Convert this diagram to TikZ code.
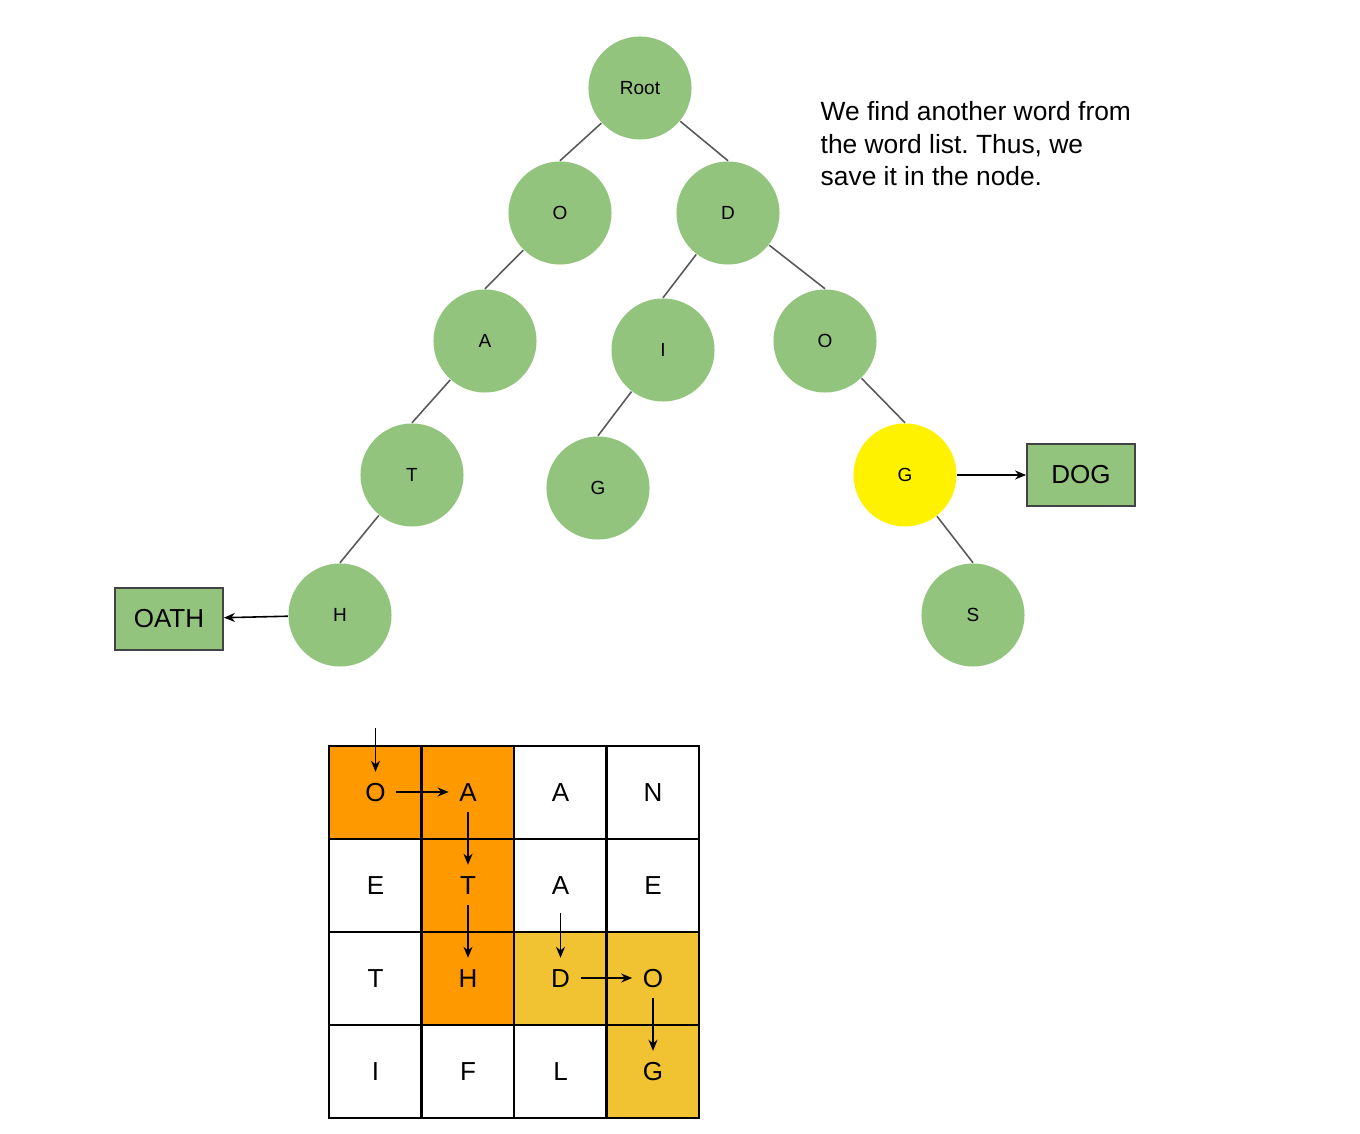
\documentclass[tikz,border=0pt]{standalone}
\usepackage{fontspec}
\setmainfont{Liberation Sans}
\usetikzlibrary{arrows.meta}
\definecolor{treegreen}{HTML}{93C47D}
\definecolor{boxgray}{HTML}{434343}
\definecolor{edgegray}{HTML}{595959}
\definecolor{pathorange}{HTML}{FF9900}
\definecolor{pathgold}{HTML}{F1C232}
\frenchspacing

\begin{document}
\begin{tikzpicture}[x=0.01cm,y=-0.01cm,
  leaf/.style={circle,fill=treegreen,minimum size=1.03cm,inner sep=0pt,font=\fontsize{5.4}{6}\selectfont},
  word/.style={draw=boxgray,line width=0.5pt,fill=treegreen,minimum width=1.08cm,minimum height=0.62cm,font=\fontsize{7.4}{8}\selectfont},
  edge/.style={draw=edgegray,line width=0.45pt},
  arr/.style={-{Stealth[length=1.1mm,width=0.9mm]},line width=0.45pt},
  cell/.style={inner sep=1mm,text height=1.9mm,text depth=0pt,font=\fontsize{7.4}{8}\selectfont}]
\useasboundingbox (0,0) rectangle (1360,1134);
% trie
\node[leaf] (root) at (640,88) {Root};
\node[leaf] (o) at (560,213) {O}; \node[leaf] (d) at (728,213) {D};
\node[leaf] (oa) at (485,341) {A}; \node[leaf] (di) at (663,350) {I}; \node[leaf] (do) at (825,341) {O};
\node[leaf] (oat) at (412,475) {T}; \node[leaf] (dig) at (598,488) {G};
\node[leaf,fill=yellow] (dog) at (905,475) {G};
\node[leaf] (oath) at (340,615) {H}; \node[leaf] (dogs) at (973,615) {S};
\draw[edge] (root) -- (o.north); \draw[edge] (root) -- (d.north);
\draw[edge] (o) -- (oa.north); \draw[edge] (d) -- (di.north); \draw[edge] (d) -- (do.north);
\draw[edge] (oa) -- (oat.north); \draw[edge] (di) -- (dig.north); \draw[edge] (do) -- (dog.north);
\draw[edge] (oat) -- (oath.north); \draw[edge] (dog) -- (dogs.north);
\node[word] (woath) at (169,619) {OATH};
\node[word] (wdog) at (1081,475) {DOG};
\draw[arr] (oath) -- (woath);
\draw[arr] (dog) -- (wdog);
\node[anchor=north west,inner sep=0pt,align=left,font=\fontsize{7.5}{9.2}\selectfont] (note) at (820,101)
  {We find another word from\\the word list. Thus, we\\save it in the node.};
% board
\fill[pathorange] (329,746) rectangle (513,839) (421,839) rectangle (513,1025);
\fill[pathgold] (513,932) rectangle (699,1025) (607,1025) rectangle (699,1118);
\draw[line width=0.7pt] (329,746) rectangle (699,1118);
\foreach \k in {1,2,3} {
  \draw[line width=0.7pt] (329+92.5*\k,746) -- (329+92.5*\k,1118);
  \draw[line width=0.7pt] (329,746+93*\k) -- (699,746+93*\k);
}
\foreach \row [count=\r] in {{O,A,A,N},{E,T,A,E},{T,H,D,O},{I,F,L,G}}
  \foreach \ch [count=\c] in \row
    \node[cell] (g\r\c) at ({329+92.5*\c-46},{746+93*\r-47}) {\ch};
\coordinate (in1) at (g11 |- 0,728); \coordinate (in2) at (g33 |- 0,913);
\draw[arr] (in1) -- (g11);
\draw[arr] (g11) -- (g12); \draw[arr] (g12) -- (g22); \draw[arr] (g22) -- (g32);
\draw[arr] (in2) -- (g33);
\draw[arr] (g33) -- (g34); \draw[arr] (g34) -- (g44);
\end{tikzpicture}
\end{document}
